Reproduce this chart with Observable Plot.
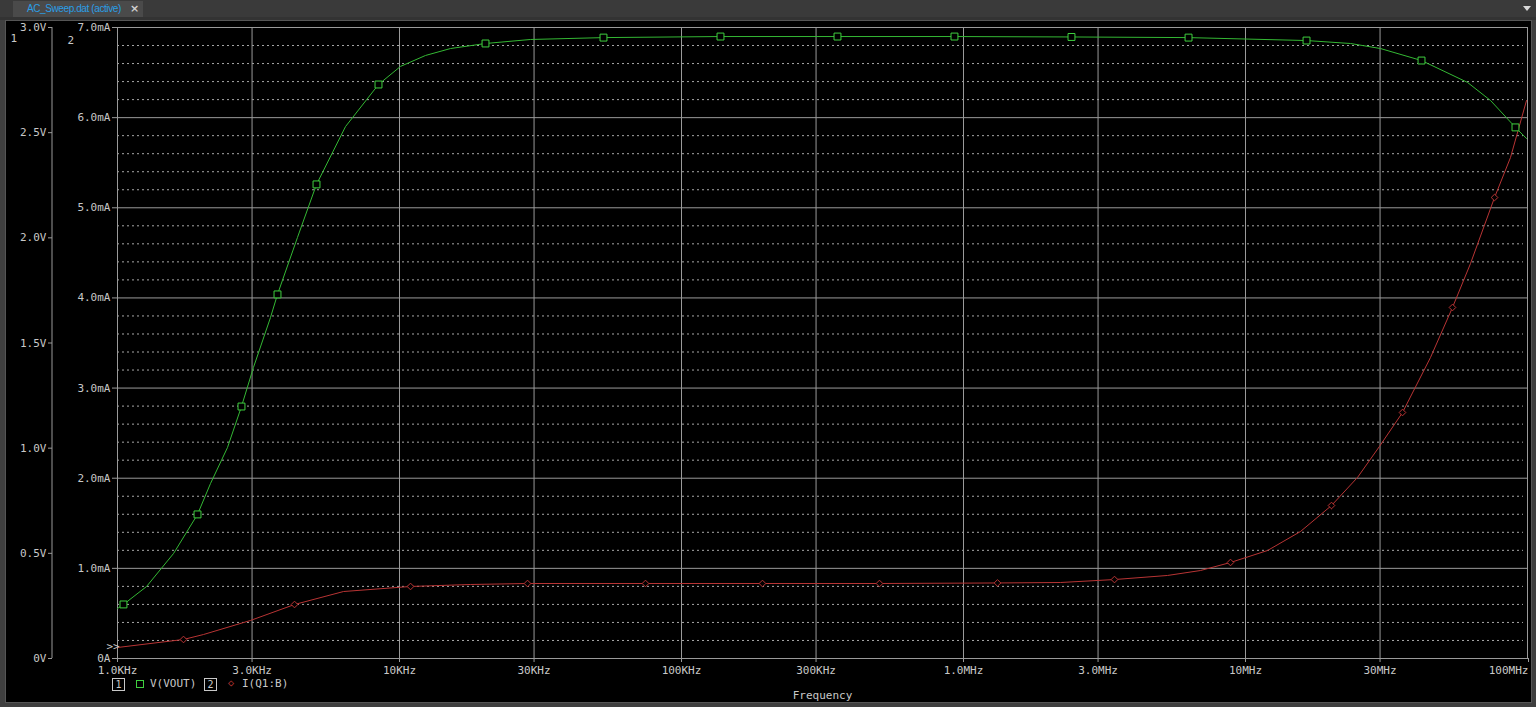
<!DOCTYPE html>
<html>
<head>
<meta charset="utf-8">
<script src="https://cdn.jsdelivr.net/npm/d3@7"></script>
<script src="https://cdn.jsdelivr.net/npm/@observablehq/plot@0.6"></script>
<style>
  html, body { margin: 0; padding: 0; width: 1536px; height: 707px; overflow: hidden; background: #3f3f3f; }
  #topbar { position: absolute; left: 0; top: 0; width: 1536px; height: 17px; background: #3a3a3a; }
  #tab { position: absolute; left: 13px; top: 1px; width: 130px; height: 16px; background: #4a4a4a; }
  #tabtext { position: absolute; left: 27px; top: 1px; font: 10px "Liberation Sans", Arial, sans-serif; letter-spacing: -0.4px; color: #2a9ee6; line-height: 16px; white-space: nowrap; }
  #tabx { position: absolute; left: 130px; top: 0px; font: bold 11px "DejaVu Sans", sans-serif; color: #d0d0d0; line-height: 17px; }
  #tri { position: absolute; left: 1523px; top: 6px; width: 0; height: 0; border-left: 4px solid transparent; border-right: 4px solid transparent; border-top: 5px solid #d8d8d8; }
  #sep { position: absolute; left: 0; top: 17px; width: 1536px; height: 3px; background: #333; }
  #panel { position: absolute; left: 5px; top: 20px; width: 1527px; height: 683px; background: #000; border: 1px solid #555; box-sizing: border-box; }
  #chart { position: absolute; left: 0; top: 0; }
  .leg { position: absolute; font: 11px "DejaVu Sans Mono", monospace; color: #c8c8c8; line-height: 12px; white-space: pre; }
  .box { position: absolute; width: 11px; height: 11px; border: 1px solid #c8c8c8; font: 10px "DejaVu Sans Mono", monospace; color: #c8c8c8; text-align: center; line-height: 11px; }
</style>
</head>
<body>
<div id="topbar"></div>
<div id="tab"></div>
<div id="tabtext">AC_Sweep.dat (active)</div>
<div id="tabx">×</div>
<div id="tri"></div>
<div id="sep"></div>
<div id="panel"></div>
<div id="chart"></div>
<div class="box" style="left:112px;top:678px;">1</div>
<div id="lg1" style="position:absolute;left:136px;top:680px;width:6px;height:6px;border:1px solid #3fcf3f;"></div>
<div class="leg" style="left:150px;top:678px;">V(VOUT)</div>
<div class="box" style="left:204px;top:678px;">2</div>
<div class="leg" style="left:228px;top:677px;color:#c03838;font-size:10px;">◇</div>
<div class="leg" style="left:242px;top:678px;">I(Q1:B)</div>
<script>
// ---- data ----
// V(VOUT) trace: frequency (Hz), voltage (V), marker flag
const vFreq = [1000, 1050, 1267, 1580, 1922, 2137, 2455, 2752, 3035, 3487, 3693, 4348, 5078, 6436, 8424,
  10081, 12364, 15166, 20183, 29140, 52890, 137500, 357400, 929000, 2415000, 6281000, 16460000,
  23560000, 30110000, 42090000, 61260000, 73940000, 90650000, 99200000];
const vVolt = [0.238, 0.257, 0.342, 0.499, 0.685, 0.832, 1.003, 1.198, 1.384, 1.621, 1.731, 2.002, 2.254, 2.529, 2.729,
  2.815, 2.867, 2.900, 2.924, 2.943, 2.952, 2.957, 2.957, 2.957, 2.955, 2.952, 2.938,
  2.924, 2.900, 2.843, 2.739, 2.653, 2.525, 2.472];
const vMark = [0, 1, 0, 0, 1, 0, 0, 1, 0, 0, 1, 0, 1, 0, 1,
  0, 0, 0, 1, 0, 1, 1, 1, 1, 1, 1, 1,
  0, 0, 1, 0, 0, 1, 0];
// I(Q1:B) trace: frequency (Hz), current (mA), marker flag
const iFreq = [1000, 1714, 2018, 2962, 4243, 6330, 10940, 17860, 28440, 74530, 193700, 503600, 1320000,
  2208000, 3431000, 5289000, 6924000, 8847000, 11970000, 15670000, 20180000, 24950000, 29850000,
  36040000, 45290000, 54200000, 62800000, 76400000, 87040000, 99200000];
const iMA = [0.122, 0.211, 0.266, 0.422, 0.599, 0.743, 0.799, 0.821, 0.832, 0.832, 0.832, 0.832, 0.838,
  0.843, 0.876, 0.921, 0.976, 1.065, 1.198, 1.409, 1.697, 2.008, 2.352,
  2.729, 3.339, 3.894, 4.382, 5.114, 5.558, 6.190];
const iMark = [0, 1, 0, 0, 1, 0, 1, 0, 1, 1, 1, 1, 1,
  0, 1, 0, 0, 1, 0, 0, 1, 0, 0,
  1, 0, 1, 0, 1, 0, 0];
// axes
const xTicks = [1e3, 3e3, 1e4, 3e4, 1e5, 3e5, 1e6, 3e6, 1e7, 3e7, 1e8];
const xLabels = ["1.0KHz", "3.0KHz", "10KHz", "30KHz", "100KHz", "300KHz", "1.0MHz", "3.0MHz", "10MHz", "30MHz", "100MHz"];
const maTicks = [0, 1, 2, 3, 4, 5, 6, 7];
const maLabels = ["0A", "1.0mA", "2.0mA", "3.0mA", "4.0mA", "5.0mA", "6.0mA", "7.0mA"];
const vTicks = [0, 0.5, 1.0, 1.5, 2.0, 2.5, 3.0];
const vLabels = ["0V", "0.5V", "1.0V", "1.5V", "2.0V", "2.5V", "3.0V"];
const vMax = 3, maMax = 7;

// ---- tables ----
const vData = vFreq.map((f, i) => ({f, y: vVolt[i] * maMax / vMax, m: vMark[i]}));
const iData = iFreq.map((f, i) => ({f, y: iMA[i], m: iMark[i]}));
const minor = d3.range(0, maMax * 5 + 1).map(k => k / 5).filter(v => Math.abs(v - Math.round(v)) > 1e-6);
const major = maTicks.filter(v => v > 0 && v < maMax);
const vPos = vTicks.map(v => v * maMax / vMax);
const xFmt = d => xLabels[xTicks.indexOf(d)];

const fg = "#c8c8c8";
const gridSolid = "#9a9a9a";
const gridDash = "#a8a8a8";
const green = "#34b834";
const greenMark = "#3fcf3f";
const red = "#b83434";

const chart = Plot.plot({
  width: 1536, height: 707,
  marginLeft: 117, marginRight: 9, marginTop: 27, marginBottom: 49,
  style: {background: "transparent", color: fg, fontFamily: "DejaVu Sans Mono, monospace", fontSize: "11px"},
  x: {type: "log", domain: [1e3, 1e8]},
  y: {domain: [0, maMax]},
  marks: [
    Plot.ruleY(minor, {stroke: gridDash, strokeDasharray: "2,3", strokeWidth: 1, insetRight: 4}),
    Plot.ruleY(major, {stroke: gridSolid}),
    Plot.ruleX(xTicks.slice(1, -1), {stroke: gridSolid}),
    Plot.frame({stroke: gridSolid}),
    Plot.line(vData, {x: "f", y: "y", stroke: green, strokeWidth: 1}),
    Plot.line(iData, {x: "f", y: "y", stroke: red, strokeWidth: 1}),
    Plot.dot(vData.filter(d => d.m), {x: "f", y: "y", symbol: "square", r: 3.9, stroke: greenMark, strokeWidth: 1, fill: "black"}),
    Plot.dot(iData.filter(d => d.m), {x: "f", y: "y", symbol: "diamond2", r: 3.0, stroke: red, strokeWidth: 1, fill: "black"}),
    Plot.axisX(xTicks.slice(0, -1), {tickFormat: xFmt, tickSize: 4, tickPadding: 4, label: null, stroke: gridSolid, fill: fg}),
    Plot.axisX(xTicks.slice(-1), {tickFormat: xFmt, tickSize: 4, tickPadding: 4, label: null, stroke: gridSolid, fill: fg, textAnchor: "end", dx: 1}),
    Plot.axisY(maTicks, {tickFormat: d => maLabels[Math.round(d)], tickSize: 5, tickPadding: 2, label: null, stroke: gridSolid, fill: fg}),
    Plot.axisY(vPos, {tickFormat: (d) => vLabels[vPos.findIndex(p => Math.abs(p - d) < 1e-9)], tickSize: 4, tickPadding: 2, dx: -65, label: null, stroke: gridSolid, fill: fg}),
    Plot.text(["1"], {frameAnchor: "top-left", dx: -107, dy: 7, fill: fg, fontSize: 11}),
    Plot.text(["2"], {frameAnchor: "top-left", dx: -50, dy: 9, fill: fg, fontSize: 11}),
    Plot.text([">>"], {frameAnchor: "bottom-left", dx: -11, dy: -9, fill: fg, fontSize: 11, letterSpacing: -1}),
    Plot.text(["Frequency"], {frameAnchor: "bottom", dx: 0, dy: 40, fill: fg, fontSize: 11})
  ]
});
document.getElementById("chart").appendChild(chart);

// left (V) axis spine, drawn with the plot's own y scale
const ys = chart.scale("y");
const svg = d3.select(chart.tagName === "svg" ? chart : chart.querySelector("svg"));
svg.append("line")
  .attr("x1", 117 - 65).attr("x2", 117 - 65)
  .attr("y1", ys.apply(0)).attr("y2", ys.apply(maMax))
  .attr("stroke", gridSolid);
</script>
</body>
</html>
